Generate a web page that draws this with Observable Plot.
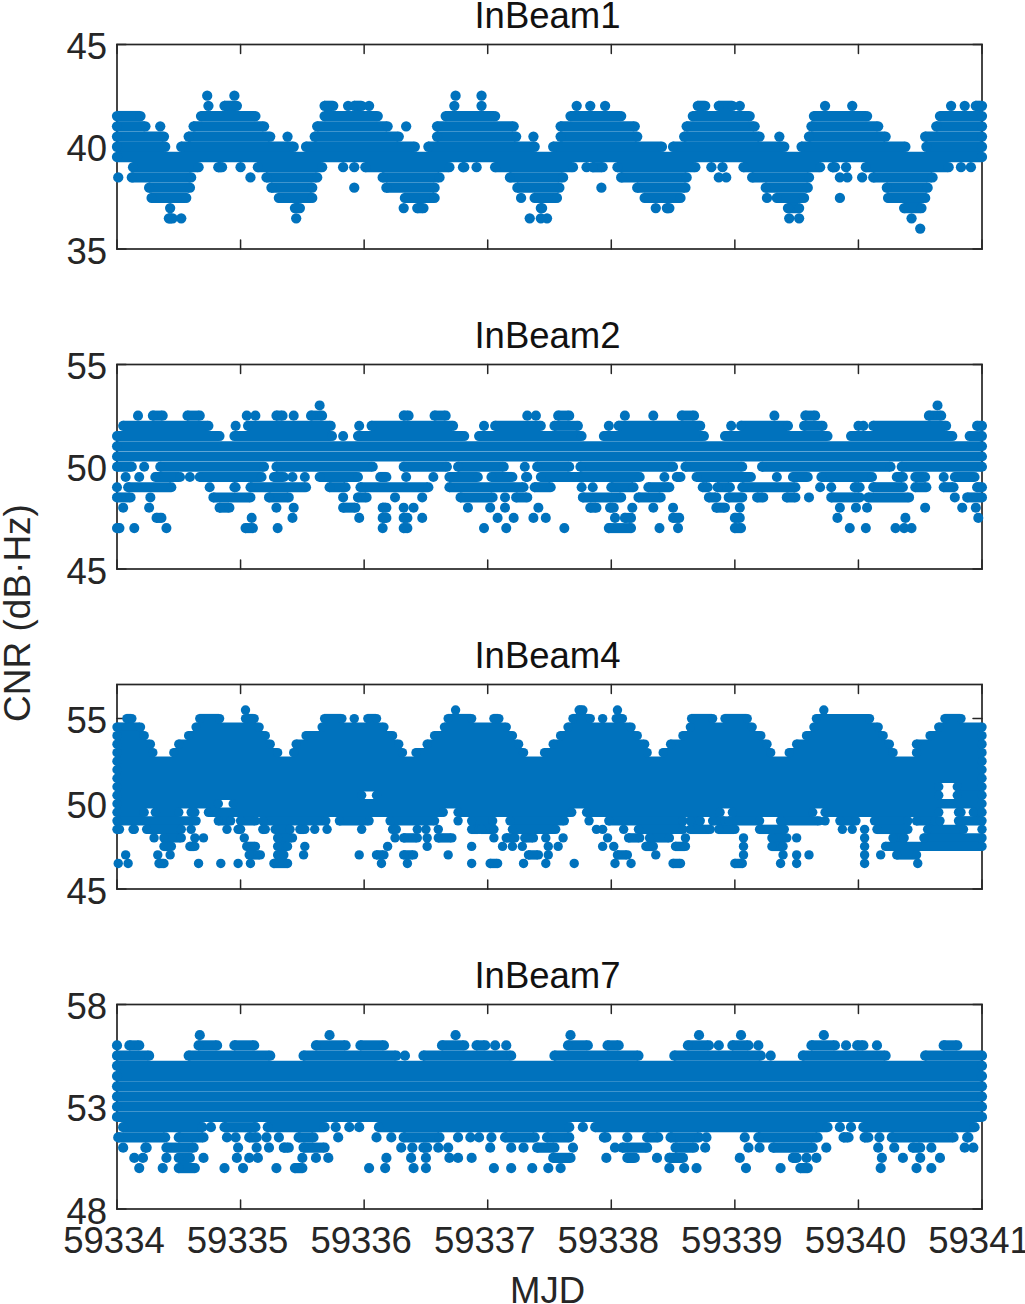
<!DOCTYPE html>
<html><head><meta charset="utf-8">
<script src="https://cdn.jsdelivr.net/npm/d3@7"></script>
<script src="https://cdn.jsdelivr.net/npm/@observablehq/plot@0.6"></script>
<style>
html,body{margin:0;padding:0;background:#fff;width:1025px;height:1304px;overflow:hidden}
#page{position:relative;width:1025px;height:1304px;font-family:"Liberation Sans",Arial,sans-serif}
#page svg{display:block}
#ylab{position:absolute;left:17px;top:613px;transform:translate(-50%,-50%) rotate(-90deg);white-space:nowrap;font-size:37px;color:#262626;line-height:1}
</style></head><body><div id="page"><div id="charts"></div><div id="ylab">CNR (dB·Hz)</div></div>
<script>
// Each row: [CNR level, occupied stretches]; days after MJD 59334.
// A pair is a stretch of overlapping dots, a single number is an isolated dot.
const mjdTicks = [59334,59335,59336,59337,59338,59339,59340,59341];
const mjdStart = 59334;
const inBeam1 = [
[42.5,[.73,.95,2.74,2.95]],
[42,[.74,[.87,.97],[1.68,1.75],1.87,[1.92,1.98],2.04,2.73,2.95,3.72,3.83,3.95,[4.70,4.76],[4.87,4.98],5.04,5.73,5.95,6.75,6.86,[6.95,7]]],
[41.5,[[0,.19],[.68,1.12],[1.68,2.11],[2.66,3.06],[3.67,4.08],[4.66,5.12],[5.64,6.07],[6.66,7]]],
[41,[[0,.23],.35,[.62,1.19],[1.62,2.19],2.34,[2.59,3.21],[3.59,4.19],[4.61,5.16],[5.62,6.16],[6.63,7]]],
[40.5,[[0,.38],[.58,1.24],1.38,[1.6,2.28],[2.59,3.23],3.37,[3.59,4.21],[4.59,5.2],5.36,[5.6,6.22],[6.54,7]]],
[40,[[0,.39],[.52,1.43],[1.53,2.41],[2.52,3.38],[3.53,4.41],[4.5,5.4],[5.54,6.38],[6.55,7]]],
[39.5,[[0,7]]],
[39,[[.13,.66],[.82,.85],1,[1.14,1.66],1.83,1.92,[2.01,2.69],[2.8,2.81],2.91,[3.06,3.69],3.8,[3.85,3.93],[4.05,4.68],4.81,4.9,[5.07,5.69],[5.79,5.81],5.9,[6.06,6.73],6.83,6.91]],
[38.5,[.01,[.12,.6],1.08,[1.21,1.62],[2.15,2.61],[3.18,3.61],[4.08,4.61],4.87,4.93,[5.14,5.6],5.85,5.91,6.03,[6.12,6.6]]],
[38,[[.26,.59],[1.25,1.58],1.92,[2.18,2.57],[3.24,3.58],3.92,[4.21,4.6],[5.25,5.59],[6.23,6.56]]],
[37.5,[[.28,.56],[1.31,1.58],[2.33,2.57],3.27,[3.38,3.56],[4.27,4.56],5.26,[5.34,5.56],5.85,[6.24,6.54]]],
[37,[.43,[1.44,1.48],2.32,[2.43,2.48],[3.43,3.44],4.36,[4.45,4.47],[5.43,5.52],[6.37,6.51]]],
[36.5,[[.42,.45],.52,1.45,3.34,3.43,3.48,5.44,5.52,6.43]],
[36,[6.5]]
];
const inBeam2 = [
[53,[1.64,6.64]],
[52.5,[.17,[.29,.37],[.57,.67],1.05,1.12,[1.29,1.34],1.43,[1.57,1.66],[2.32,2.36],[2.57,2.66],3.32,3.39,[3.57,3.66],4.11,4.34,[4.57,4.67],5.32,[5.57,5.65],[6.57,6.67]]],
[52,[[.05,.74],.96,[1.06,1.73],1.96,[2.06,2.72],2.97,[3.06,3.43],[3.54,3.73],3.98,[4.06,4.72],4.97,[5.05,5.43],[5.56,5.71],6,6.04,[6.12,6.71],[6.96,7]]],
[51.5,[[0,.83],[.95,1.74],1.83,[1.95,2.81],[2.93,3.76],[3.94,4.75],[4.92,5.75],[5.94,6.76],[6.9,7]]],
[51,[[0,7]]],
[50.5,[[0,7]]],
[50,[[0,.12],.22,[.35,1.19],[1.29,2.07],[2.32,2.67],[2.76,3.13],3.3,[3.4,3.66],[3.75,4.5],[4.6,5.06],[5.22,6.26],[6.35,7]]],
[49.5,[.07,.18,[.31,.51],.59,[.67,1.17],[1.27,1.35],1.42,1.52,[1.64,1.95],[2.13,2.18],2.34,2.56,[2.69,2.92],[3.03,3.2],[3.31,3.32],[3.43,4.23],4.43,[4.53,4.56],[4.69,5.13],5.34,[5.47,5.59],[5.7,6.11],[6.31,6.36],[6.46,6.54],6.69,[6.78,6.94]]],
[49,[0,[.09,.44],.75,[.95,.96],[1.08,1.53],[1.72,1.85],[1.97,2.52],[2.69,3.29],[3.38,3.51],3.76,3.85,[4,4.18],[4.3,4.47],[4.74,4.78],[4.86,4.96],[5.06,5.49],5.69,5.78,[5.97,6.01],[6.12,6.36],[6.46,6.55],[6.69,6.77],[6.96,7]]],
[48.5,[[0,.11],.27,[.78,1.08],[1.23,1.39],1.83,[1.95,2.02],2.25,2.47,[2.78,3.04],3.14,[3.23,3.32],[3.77,4.08],[4.22,4.4],[4.79,4.85],[4.95,5.06],[5.18,5.23],[5.42,5.49],5.6,[5.78,6.01],[6.08,6.41],6.78,[6.88,7]]],
[48,[.05,.26,[.83,.91],1.29,1.43,[1.83,1.93],[2.15,2.18],2.32,2.4,2.84,3.02,3.14,3.41,[3.83,3.88],[3.99,4.02],4.17,4.34,4.5,[4.85,4.92],5.04,5.85,5.98,6.07,6.54,6.84,6.95]],
[47.5,[[.32,.36],1.09,1.42,1.96,[2.15,2.18],[2.32,2.35],2.47,3.08,3.21,3.37,3.47,4.03,[4.11,4.16],[4.5,4.55],[5,5.04],5.83,6.38,6.97]],
[47,[[0,.02],.14,.4,[1.04,1.1],1.3,2.15,[2.32,2.35],2.97,3.15,3.62,[3.98,4.16],4.39,4.54,[5,5.05],5.93,6.06,6.3,6.37,6.43]]
];
const inBeam4 = [
[55.5,[1.04,2.74,[3.74,3.77],4.05,5.72]],
[55,[[.08,.12],[.67,.83],[1.04,1.11],[1.68,1.82],1.92,[2.03,2.1],[2.68,2.87],[3.05,3.09],[3.69,3.83],3.93,[4.04,4.09],[4.65,4.82],[4.92,5.1],[5.66,6.09],[6.7,6.83]]],
[54.5,[[0,.19],[.64,1.15],[1.66,2.16],[2.65,3.15],[3.65,4.16],[4.64,5.14],[5.64,6.16],[6.65,7]]],
[54,[[0,.22],[.58,1.2],[1.53,2.23],[2.57,3.2],[3.59,4.21],[4.58,5.21],[5.58,6.2],[6.58,7]]],
[53.5,[[0,.27],[.5,1.24],[1.45,2.28],[2.51,3.25],[3.53,4.27],[4.48,5.26],[5.5,6.25],[6.47,7]]],
[53,[[0,.29],[.46,1.3],[1.43,2.31],[2.42,3.29],[3.46,4.29],[4.42,5.29],[5.44,6.28],[6.47,7]]],
[52.5,[[0,7]]],
[52,[[0,7]]],
[51.5,[[0,7]]],
[51,[[0,6.65],[6.8,7]]],
[50.5,[[0,1.98],[2.1,6.65],[6.8,7]]],
[50,[[0,.82],[.94,7]]],
[49.5,[[0,.22],[.31,.5],[.6,.63],[.74,2.64],[2.76,3.68],[3.8,4.88],[4.98,5.63],[5.73,6.65],[6.81,6.83],[6.93,7]]],
[49,[[0,.64],[.82,.92],[1,1.12],[1.18,1.69],[1.8,2.04],[2.21,2.57],2.76,[2.87,3.04],[3.18,3.62],3.82,[3.98,4.58],[4.64,4.72],[4.82,4.92],[4.95,5.2],[5.37,5.68],5.73,[5.85,5.98],[6.13,6.4],[6.47,6.62],6.66,[6.81,7]]],
[48.5,[[0,.02],[.13,.14],[.24,.52],.6,.89,[.98,1],[1.18,1.2],[1.28,1.4],[1.48,1.52],1.6,1.7,1.98,[2.23,2.26],2.43,2.5,2.6,[2.87,2.93],[2.95,3.05],[3.2,3.55],3.88,3.93,4.1,[4.22,4.58],[4.64,4.8],[4.87,5],[5.2,5.4],5.87,5.95,6.05,[6.15,6.4],[6.56,6.85],7]],
[48,[.3,[.38,.52],.63,.7,1.03,[1.3,1.42],2.25,[2.32,2.43],2.51,[2.6,2.71],3.05,[3.15,3.22],[3.3,3.37],3.47,3.61,3.97,[4.14,4.23],[4.31,4.47],4.6,5.07,[5.3,5.42],5.5,6.05,[6.28,6.37],[6.53,7]]],
[47.5,[[.38,.44],[.59,.63],[1.05,1.12],[1.3,1.38],1.52,2.19,2.51,2.87,3.12,3.2,3.28,3.49,3.57,3.93,4.02,[4.28,4.34],[4.52,4.6],5.07,[5.3,5.39],6.05,[6.22,7]]],
[47,[.07,.33,.43,[1.07,1.16],[1.3,1.35],1.51,1.96,[2.1,2.16],[2.32,2.4],2.68,[3.33,3.41],3.49,[4.05,4.13],4.36,5.07,5.39,5.5,5.6,6.05,6.18,[6.31,6.47]]],
[46.5,[.01,.09,[.34,.38],.66,.84,.98,1.08,[1.27,1.38],2.14,2.35,2.87,[3.02,3.08],3.29,3.47,3.7,4.03,4.16,[4.5,4.56],[5,5.06],5.37,5.5,6.05,6.48]]
];
const inBeam7 = [
[56.5,[.67,1.72,2.74,3.67,4.71,5.05,5.72]],
[56,[0,[.1,.18],[.66,.81],[.95,1.11],[1.61,1.85],[1.97,2.16],[2.63,2.81],[2.91,2.98],3.06,3.15,[3.65,3.81],[3.97,4.06],[4.62,4.79],4.87,[4.98,5.11],5.19,[5.62,5.81],5.9,[5.99,6.04],6.15,[6.69,6.8]]],
[55.5,[[0,.26],[.58,1.24],[1.51,2.26],2.33,[2.48,3.19],[3.54,4.22],[4.51,5.21],5.29,[5.55,6.22],[6.54,7]]],
[55,[[0,7]]],
[54.5,[[0,7]]],
[54,[[0,7]]],
[53.5,[[0,7]]],
[53,[[0,7]]],
[52.5,[[0,7]]],
[52,[[.05,.69],.76,[.87,1.12],[1.22,1.68],1.77,1.88,1.96,[2.12,3.66],3.77,[3.87,5.75],5.85,5.94,[6.04,6.94]]],
[51.5,[[.01,.39],[.5,.7],.89,.96,[1.07,1.13],1.21,1.31,[1.47,1.59],1.79,2.1,2.22,[2.32,2.61],2.76,2.86,2.93,3.03,[3.14,3.38],[3.48,3.66],[3.94,3.96],4.13,[4.29,4.38],[4.48,4.71],4.77,5.08,[5.19,5.67],[5.88,5.92],[6.05,6.08],6.17,[6.27,6.77],[6.88,6.89]]],
[51,[.05,[.23,.24],[.4,.62],.98,1.13,1.23,[1.35,1.39],[1.51,1.68],2.3,2.39,[2.48,2.51],2.6,2.68,3.02,3.19,3.29,[3.4,3.54],3.69,4.03,[4.09,4.29],[4.52,4.67],4.76,5.11,5.2,[5.31,5.63],5.74,6.16,6.29,[6.44,6.5],6.59,6.86,6.93]],
[50.5,[.14,.21,.4,[.5,.59],.7,.97,1.07,1.14,1.5,1.61,1.71,2.18,2.38,2.5,2.69,2.76,2.87,[3.53,3.67],3.96,[4.13,4.19],4.37,[4.47,4.58],5.04,[5.47,5.5],5.58,5.66,6.19,6.36,6.5,6.66]],
[50,[.18,.37,[.5,.63],.87,1.02,1.29,[1.44,1.5],2.04,2.17,2.4,2.5,3.05,3.19,3.36,3.49,3.59,4.47,4.59,4.69,5.09,5.37,[5.53,5.59],6.18,6.47,6.59]]
];
const blue = "#0072BD", ink = "#262626";
const tickShape = {draw(ctx, l){ctx.moveTo(0,0); ctx.lineTo(0,-l);}};

function panel(title, rows, yDomain, yTicks, height, runWidth, withX) {
  const dots = [], runs = [];
  for (const [cnr, items] of rows) for (const it of items) {
    if (Array.isArray(it)) {
      dots.push({mjd: mjdStart + it[0], cnr}, {mjd: mjdStart + it[1], cnr});
      runs.push({a: mjdStart + it[0], b: mjdStart + it[1], cnr});
    } else dots.push({mjd: mjdStart + it, cnr});
  }
  const tick = (data, opts) => Plot.vector(data, {length: 9, anchor: "start", shape: tickShape, stroke: ink, strokeWidth: 1.5, ...opts});
  return Plot.plot({
    width: 1025, height, marginLeft: 116.5, marginRight: 43.5, marginTop: 44, marginBottom: height - 248.5,
    style: {fontFamily: '"Liberation Sans",Arial,sans-serif', fontSize: "36.5px", color: ink, background: "transparent", overflow: "visible"},
    x: {domain: [mjdTicks[0], mjdTicks[mjdTicks.length-1]], axis: null},
    y: {domain: yDomain, axis: null},
    marks: [
      tick(mjdTicks, {x: d => d, frameAnchor: "bottom", rotate: 0}),
      tick(mjdTicks, {x: d => d, frameAnchor: "top", rotate: 180}),
      tick(yTicks, {y: d => d, frameAnchor: "left", rotate: 90}),
      tick(yTicks, {y: d => d, frameAnchor: "right", rotate: -90}),
      Plot.frame({stroke: ink, strokeWidth: 1.7}),
      Plot.ruleY(runs, {y: "cnr", x1: "a", x2: "b", stroke: blue, strokeWidth: runWidth}),
      Plot.dot(dots, {x: "mjd", y: "cnr", r: Math.max(4.7, runWidth / 2), fill: blue, stroke: "none"}),
      Plot.axisY({ticks: yTicks, tickSize: 0, tickPadding: 10, tickFormat: d => String(d), label: null, dy: 3, fill: ink}),
      withX ? Plot.axisX({ticks: mjdTicks, tickSize: 0, tickPadding: 18, tickFormat: d => String(d), label: null, dx: -3, fill: ink}) : null,
      Plot.text([title], {frameAnchor: "top", dy: -17, dx: -2, lineAnchor: "bottom", text: d => d, fontSize: 36.5, fill: "#111"}),
      withX ? Plot.text(["MJD"], {frameAnchor: "bottom", dy: 94, dx: -2, lineAnchor: "bottom", text: d => d, fontSize: 36.5, fill: ink}) : null
    ]
  });
}
const charts = document.getElementById("charts");
charts.append(
  panel("InBeam1", inBeam1, [35,45], [35,40,45], 320, 10.3, false),
  panel("InBeam2", inBeam2, [45,55], [45,50,55], 320, 10.05, false),
  panel("InBeam4", inBeam4, [45,57], [45,50,55], 320, 9.4, false),
  panel("InBeam7", inBeam7, [48,58], [48,53,58], 344, 10.2, true)
);
</script></body></html>
